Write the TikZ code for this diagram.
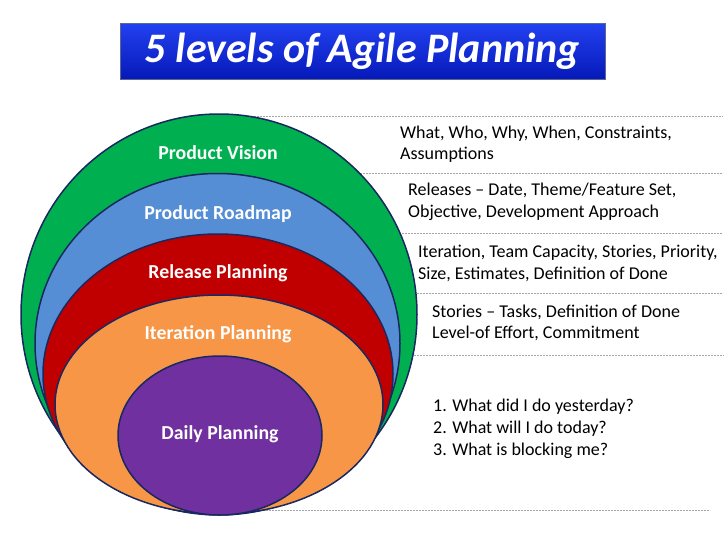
\documentclass[tikz,border=0pt]{standalone}
\usepackage{fontspec}
\setmainfont{Carlito}
\usetikzlibrary{shadings}
\definecolor{cgreen}{RGB}{0,176,80}
\definecolor{cblue}{RGB}{85,142,213}
\definecolor{cred}{RGB}{192,0,0}
\definecolor{corange}{RGB}{247,150,70}
\definecolor{cpurple}{RGB}{112,48,160}
\definecolor{outl}{RGB}{25,40,95}
\definecolor{ttop}{RGB}{35,65,240}
\definecolor{tbot}{RGB}{5,25,185}
\definecolor{dashgray}{RGB}{165,165,165}
\tikzset{
  ring/.style={draw=outl, line width=1.5pt},
  sep/.style={draw=dashgray, line width=0.7pt, dash pattern=on 2pt off 1pt},
  lvl/.style={text=white, font=\fontsize{19.8}{23}\selectfont\bfseries, anchor=base, inner sep=0pt},
  desc/.style={font=\fontsize{18}{21}\selectfont, anchor=base west, inner sep=0pt},
}
\begin{document}
\begin{tikzpicture}[x=1pt,y=-1pt]
\useasboundingbox (0,0) rectangle (728,546);
% title
\node[draw=outl!70, line width=0.6pt, top color=ttop, bottom color=tbot, minimum width=485pt, minimum height=56pt, inner sep=0pt, text=white, font=\fontsize{42}{46}\selectfont\bfseries\itshape] (title) at (362.5,51) {5 levels of Agile Planning};
% separators
\coordinate (s1a) at (230,116); \coordinate (s1b) at (723,116);
\coordinate (s2a) at (300,173); \coordinate (s2b) at (723,173);
\coordinate (s3a) at (300,233); \coordinate (s3b) at (722,233);
\coordinate (s4a) at (300,293); \coordinate (s4b) at (723,293);
\coordinate (s5a) at (300,355); \coordinate (s5b) at (724,355);
\coordinate (s6a) at (230,510); \coordinate (s6b) at (710,510);
\draw[sep] (s1a) -- (s1b);
\draw[sep] (s2a) -- (s2b);
\draw[sep] (s3a) -- (s3b);
\draw[sep] (s4a) -- (s4b);
\draw[sep] (s5a) -- (s5b);
\draw[sep] (s6a) -- (s6b);
% rings
\draw[ring, fill=cgreen] (219,314.5) ellipse [x radius=198, y radius=200.5];
\draw[ring, fill=cblue] (217.5,343.5) ellipse [x radius=182.5, y radius=170];
\draw[ring, fill=cred] (218,374) ellipse [x radius=175, y radius=140];
\draw[ring, fill=corange] (219,404.5) ellipse [x radius=164, y radius=109.5];
\draw[ring, fill=cpurple] (220,435.5) ellipse [x radius=102, y radius=79.5];
% labels
\node[lvl] (pv) at (218,159.5) {Product Vision};
\node[lvl] (pr) at (218,219.5) {Product Roadmap};
\node[lvl] (rp) at (218,278.5) {Release Planning};
\node[lvl] (ip) at (218,339.5) {Iteration Planning};
\node[lvl] (dp) at (220,439.5) {Daily Planning};
% descriptions
\node[desc] (d1a) at (400,138) {What, Who, Why, When, Constraints,};
\node[desc] (d1b) at (400,159) {Assumptions};
\node[desc] (d2a) at (408,195) {Releases – Date, Theme/Feature Set,};
\node[desc] (d2b) at (408,217) {Objective, Development Approach};
\node[desc] (d3a) at (418,257) {Iteration, Team Capacity, Stories, Priority,};
\node[desc] (d3b) at (418,279) {Size, Estimates, Definition of Done};
\node[desc] (d4a) at (432,317) {Stories – Tasks, Definition of Done};
\node[desc] (d4b) at (432,338) {Level-of Effort, Commitment};
\node[desc] (d5a) at (433,411) {1. What did I do yesterday?};
\node[desc] (d5b) at (433,433) {2. What will I do today?};
\node[desc] (d5c) at (433,455) {3. What is blocking me?};
\end{tikzpicture}
\end{document}
